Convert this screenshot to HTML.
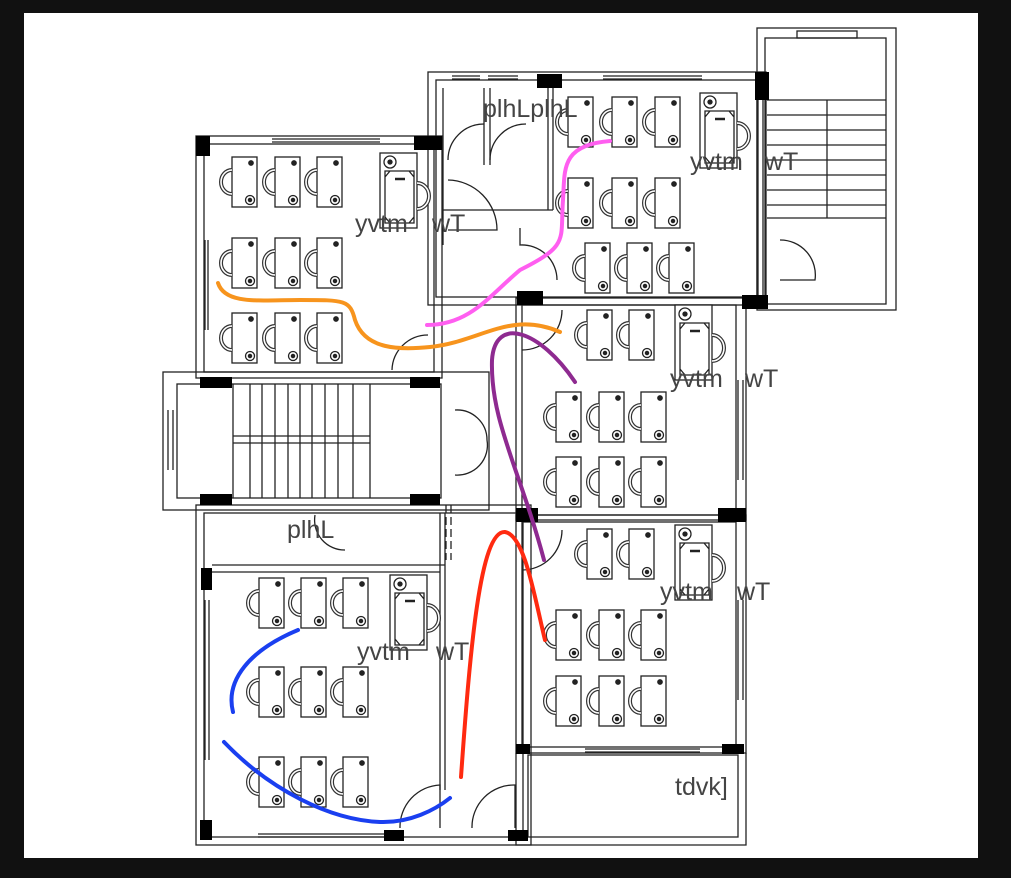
<!DOCTYPE html>
<html><head><meta charset="utf-8"><style>
html,body{margin:0;padding:0;background:#111;}
svg{display:block}
</style></head><body>
<svg width="1011" height="878" viewBox="0 0 1011 878" xmlns="http://www.w3.org/2000/svg">
<defs>
<g id="desk" fill="none" stroke="#222" stroke-width="1.3">
<rect x="0" y="0" width="25" height="50" fill="#fff"/>
<path d="M0 13 A11 12 0 0 0 0 37" stroke-width="4" stroke="#333"/>
<path d="M0 13 A11 12 0 0 0 0 37" stroke-width="1.6" stroke="#fff"/>
<circle cx="18" cy="43" r="4.5"/><circle cx="18" cy="43" r="1.6" fill="#222"/>
<circle cx="19" cy="6" r="2.2" fill="#222"/>
</g>
<g id="tdesk" fill="none" stroke="#222" stroke-width="1.3">
<rect x="0" y="0" width="37" height="75" fill="#fff"/>
<circle cx="10" cy="9" r="6"/><circle cx="10" cy="9" r="2" fill="#222"/>
<path d="M5 18 H34 V70 H5 Z M5 24 L10 18 M34 24 L29 18 M5 64 L10 70 M34 64 L29 70"/>
<path d="M15 26 H25" stroke-width="2.5"/>
<path d="M37 30 A12 13 0 0 1 37 56" stroke-width="4" stroke="#333"/>
<path d="M37 30 A12 13 0 0 1 37 56" stroke-width="1.6" stroke="#fff"/>
</g>
</defs>
<rect x="24" y="13" width="954" height="845" fill="#fff"/>
<g fill="none" stroke="#222" stroke-width="1.3">
<rect x="757" y="28" width="139" height="282"/>
<rect x="765" y="38" width="121" height="266"/>
<rect x="797" y="31" width="60" height="7"/>
<path d="M767 100 H886 M827 100 V218 M767 115 H886 M767 130 H886 M767 145 H886 M767 160 H886 M767 175 H886 M767 190 H886 M767 205 H886 M767 218 H886"/>
<path d="M757 92 V303 M763 92 V303"/>
<path d="M780 240 A35 35 0 0 1 815 280 H780"/>
<rect x="428" y="72" width="338" height="233"/>
<rect x="436" y="80" width="322" height="217"/>
<path d="M452 76 H480 M452 79 H480 M488 76 H518 M488 79 H518 M603 76 H702 M603 79 H702"/>
<path d="M443 88 V245 M484 88 V165 M490 88 V165 M548 88 V210 M553 88 V210 M443 210 H553"/>
<path d="M448 160 A36 36 0 0 1 484 124 M490 160 A36 36 0 0 1 526 124 M448 180 A50 50 0 0 1 497 230 H448"/>
<path d="M520 228 V245 A35 35 0 0 1 557 280"/>
<rect x="196" y="136" width="246" height="242"/>
<rect x="204" y="144" width="230" height="228"/>
<path d="M272 139 H380 M272 142 H380 M205 240 V330 M208 240 V330"/>
<path d="M392 370 A36 36 0 0 1 428 335"/>
<rect x="163" y="372" width="326" height="138"/>
<rect x="177" y="384" width="264" height="114"/>
<path d="M233 384 V498 M250 384 V498 M262 384 V498 M275 384 V498 M288 384 V498 M300 384 V498 M312 384 V498 M325 384 V498 M338 384 V498 M353 384 V498 M370 384 V498 M233 436 H370 M233 443 H370"/>
<path d="M168 410 V470 M173 410 V470"/>
<path d="M455 410 A30 30 0 0 1 487 440 A30 30 0 0 1 455 475"/>
<rect x="196" y="505" width="335" height="340"/>
<rect x="204" y="513" width="319" height="324"/>
<path d="M212 565 H445 M212 572 H440 M445 513 V790 M440 513 V790"/>
<path d="M258 834 H390 M258 837 H390 M205 600 V760 M209 600 V760"/>
<path d="M315 515 A30 30 0 0 0 345 550"/>
<path d="M400 828 A42 42 0 0 1 440 785 V828 M472 828 A42 42 0 0 1 515 785 V828"/>
<rect x="516" y="298" width="230" height="222"/>
<rect x="522" y="305" width="214" height="210"/>
<rect x="516" y="515" width="230" height="238"/>
<rect x="522" y="522" width="214" height="225"/>
<rect x="528" y="755" width="210" height="82"/>
<path d="M516 753 V845 H531 M516 845 H746 V753"/>
<path d="M738 380 V480 M743 380 V480 M738 600 V700 M743 600 V700 M585 749 H700 M585 752 H700"/>
<path d="M522 570 A40 40 0 0 0 562 530 M522 350 A40 40 0 0 0 562 310"/>
<path d="M446 505 V560 M451 505 V560" stroke-dasharray="8 4"/>
</g>
<g fill="#000">
<rect x="196" y="136" width="14" height="20"/><rect x="414" y="136" width="28" height="14"/>
<rect x="537" y="74" width="25" height="14"/><rect x="755" y="72" width="14" height="28"/>
<rect x="517" y="291" width="26" height="14"/><rect x="742" y="295" width="26" height="14"/>
<rect x="200" y="377" width="32" height="11"/><rect x="410" y="377" width="30" height="11"/>
<rect x="200" y="494" width="32" height="11"/><rect x="410" y="494" width="30" height="11"/>
<rect x="516" y="508" width="22" height="14"/><rect x="718" y="508" width="28" height="14"/>
<rect x="201" y="568" width="11" height="22"/>
<rect x="516" y="744" width="14" height="10"/><rect x="722" y="744" width="22" height="10"/>
<rect x="200" y="820" width="12" height="20"/><rect x="384" y="830" width="20" height="11"/>
<rect x="508" y="830" width="20" height="11"/>
</g>
<use href="#desk" x="232" y="157"/><use href="#desk" x="275" y="157"/><use href="#desk" x="317" y="157"/>
<use href="#desk" x="232" y="238"/><use href="#desk" x="275" y="238"/><use href="#desk" x="317" y="238"/>
<use href="#desk" x="232" y="313"/><use href="#desk" x="275" y="313"/><use href="#desk" x="317" y="313"/>
<use href="#tdesk" x="380" y="153"/>
<use href="#desk" x="568" y="97"/><use href="#desk" x="612" y="97"/><use href="#desk" x="655" y="97"/>
<use href="#desk" x="568" y="178"/><use href="#desk" x="612" y="178"/><use href="#desk" x="655" y="178"/>
<use href="#desk" x="585" y="243"/><use href="#desk" x="627" y="243"/><use href="#desk" x="669" y="243"/>
<use href="#tdesk" x="700" y="93"/>
<use href="#desk" x="587" y="310"/><use href="#desk" x="629" y="310"/><use href="#tdesk" x="675" y="305"/>
<use href="#desk" x="556" y="392"/><use href="#desk" x="599" y="392"/><use href="#desk" x="641" y="392"/>
<use href="#desk" x="556" y="457"/><use href="#desk" x="599" y="457"/><use href="#desk" x="641" y="457"/>
<use href="#desk" x="587" y="529"/><use href="#desk" x="629" y="529"/><use href="#tdesk" x="675" y="525"/>
<use href="#desk" x="556" y="610"/><use href="#desk" x="599" y="610"/><use href="#desk" x="641" y="610"/>
<use href="#desk" x="556" y="676"/><use href="#desk" x="599" y="676"/><use href="#desk" x="641" y="676"/>
<use href="#desk" x="259" y="578"/><use href="#desk" x="301" y="578"/><use href="#desk" x="343" y="578"/>
<use href="#tdesk" x="390" y="575"/>
<use href="#desk" x="259" y="667"/><use href="#desk" x="301" y="667"/><use href="#desk" x="343" y="667"/>
<use href="#desk" x="259" y="757"/><use href="#desk" x="301" y="757"/><use href="#desk" x="343" y="757"/>
<g font-family="Liberation Sans, sans-serif" font-size="25" fill="#444">
<text x="355" y="232">yvtm</text><text x="432" y="232">wT</text>
<text x="690" y="170">yvtm</text><text x="765" y="170">wT</text>
<text x="670" y="387">yvtm</text><text x="745" y="387">wT</text>
<text x="660" y="600">yvtm</text><text x="737" y="600">wT</text>
<text x="357" y="660">yvtm</text><text x="436" y="660">wT</text>
<text x="483" y="117">plhLplhL</text>
<text x="287" y="538">plhL</text>
<text x="675" y="795">tdvk]</text>
</g>
<g fill="none" stroke-width="4" stroke-linecap="round">
<path d="M218 283 C225 305 260 300 300 300 C345 300 350 300 355 320 C365 350 400 350 430 347 C480 342 510 310 560 332" stroke="#f7941d"/>
<path d="M427 325 C470 325 490 295 520 270 C570 245 560 240 563 200 C565 170 560 145 610 141" stroke="#ff5ef0"/>
<path d="M575 382 C540 330 495 315 492 360 C490 420 520 470 544 560" stroke="#8e2a90"/>
<path d="M461 777 C470 650 480 530 505 532 C525 535 535 600 545 640" stroke="#ff2a10"/>
<path d="M298 630 C250 650 225 680 233 712" stroke="#1a3ff0"/>
<path d="M224 742 C270 790 330 820 380 822 C410 823 435 810 450 798" stroke="#1a3ff0"/>
</g>
</svg>
</body></html>
